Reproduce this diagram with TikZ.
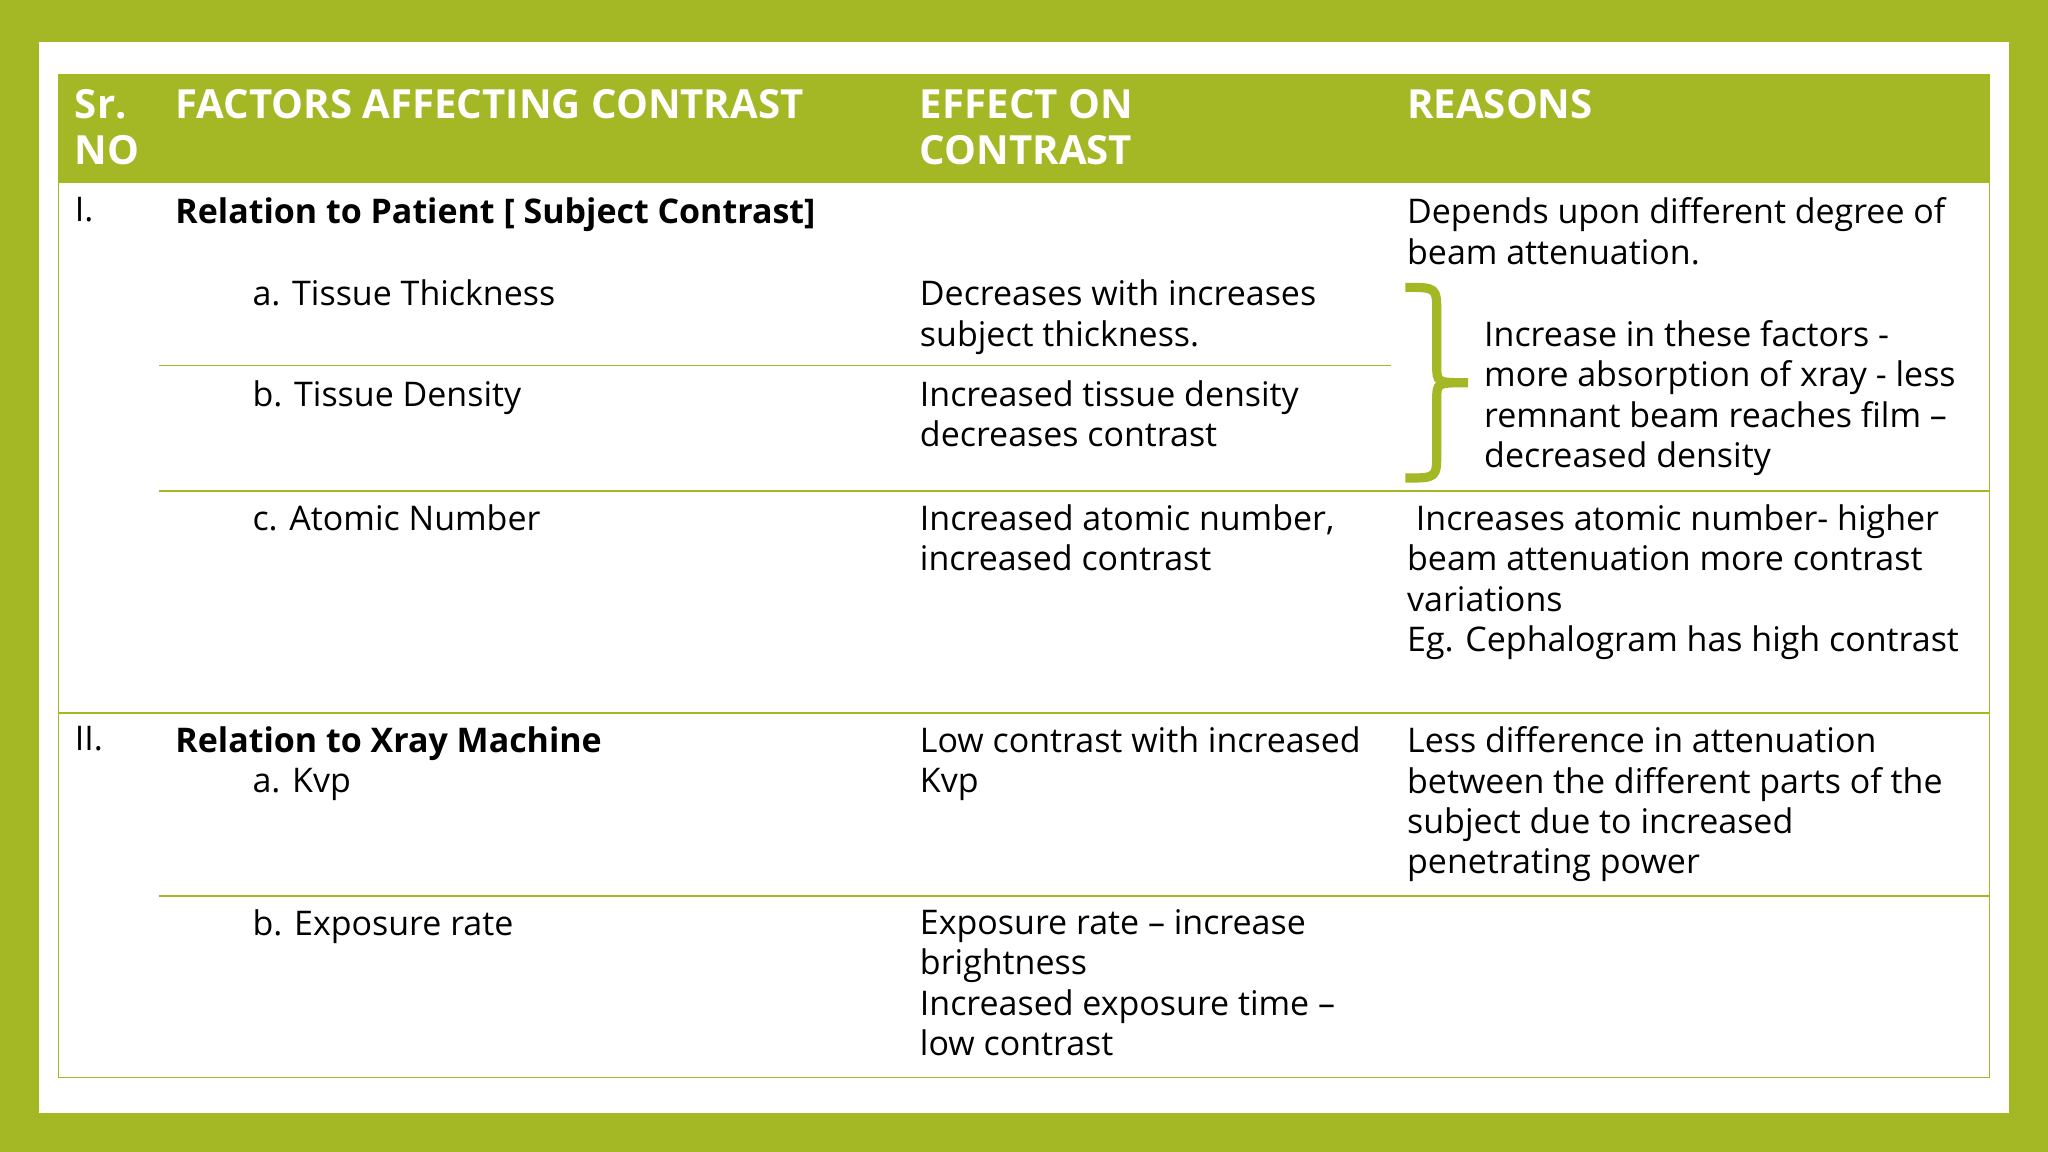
\documentclass[tikz,border=0pt]{standalone}
\usepackage{fontspec}
\setmainfont{Open Sans}
\definecolor{olive}{HTML}{A4B826}
\begin{document}
\begin{tikzpicture}[x=0.02cm,y=-0.02cm,
  txt/.style={anchor=north west,inner sep=0,align=left,font=\fontsize{14.8}{17.6}\selectfont},
  hdr/.style={anchor=north west,inner sep=0,align=left,text=white,font=\fontsize{17.5}{19.9}\selectfont\bfseries},
  rule/.style={draw=olive,line width=0.6pt}]
\fill[olive] (0,0) rectangle (1568,882);
\fill[white] (30,32) rectangle (1538,852);
\fill[olive] (45,57) rectangle (1523,140);
\draw[rule] (45,57) rectangle (1523,825);
\coordinate (a1) at (122,280); \coordinate (a2) at (1065,280);
\coordinate (b1) at (122,376); \coordinate (b2) at (1523,376);
\coordinate (c1) at (45,546);  \coordinate (c2) at (1523,546);
\coordinate (d1) at (122,686); \coordinate (d2) at (1523,686);
\draw[rule] (a1)--(a2); \draw[rule] (b1)--(b2); \draw[rule] (c1)--(c2); \draw[rule] (d1)--(d2);
% header
\node[hdr] (h1) at (57,68) {Sr.\\NO};
\node[hdr] (h2) at (134,68) {FACTORS AFFECTING CONTRAST};
\node[hdr] (h3) at (704,68) {EFFECT ON\\CONTRAST};
\node[hdr] (h4) at (1077,68) {REASONS};
% row I
\node[txt] (r1) at (57,151) {I.};
\node[txt,font=\fontsize{14.8}{17.6}\selectfont\bfseries] (r1t) at (134,151) {Relation to Patient [ Subject Contrast]};
\node[txt] (r1r) at (1077,151) {Depends upon different degree of\\beam attenuation.};
\node[txt] (fa) at (193,214) {a. Tissue Thickness};
\node[txt] (ea) at (704,214) {Decreases with increases\\subject thickness.};
\node[txt] (fb) at (193,291) {b. Tissue Density};
\node[txt] (eb) at (704,291) {Increased tissue density\\decreases contrast};
\node[txt] (rab) at (1136,245) {Increase in these factors -\\more absorption of xray - less\\remnant beam reaches film –\\decreased density};
\draw[olive,line width=4pt] (1076,220) .. controls (1100,220) .. (1100,240) -- (1100,280) .. controls (1100,293) .. (1124,293)
  .. controls (1100,293) .. (1100,306) -- (1100,346) .. controls (1100,366) .. (1076,366);
\node[txt] (fc) at (193,386) {c. Atomic Number};
\node[txt] (ec) at (704,386) {Increased atomic number,\\increased contrast};
\node[txt] (rc) at (1077,386) {\ Increases atomic number- higher\\beam attenuation more contrast\\variations\\Eg. Cephalogram has high contrast};
% row II
\node[txt] (r2) at (57,556) {II.};
\node[txt,font=\fontsize{14.8}{17.6}\selectfont\bfseries] (r2t) at (134,556) {Relation to Xray Machine};
\node[txt] (fk) at (193,588) {a. Kvp};
\node[txt] (ek) at (704,556) {Low contrast with increased\\Kvp};
\node[txt] (rk) at (1077,556) {Less difference in attenuation\\between the different parts of the\\subject due to increased\\penetrating power};
\node[txt] (fe) at (193,696) {b. Exposure rate};
\node[txt] (ee) at (704,696) {Exposure rate – increase\\brightness\\Increased exposure time –\\low contrast};
\end{tikzpicture}
\end{document}
